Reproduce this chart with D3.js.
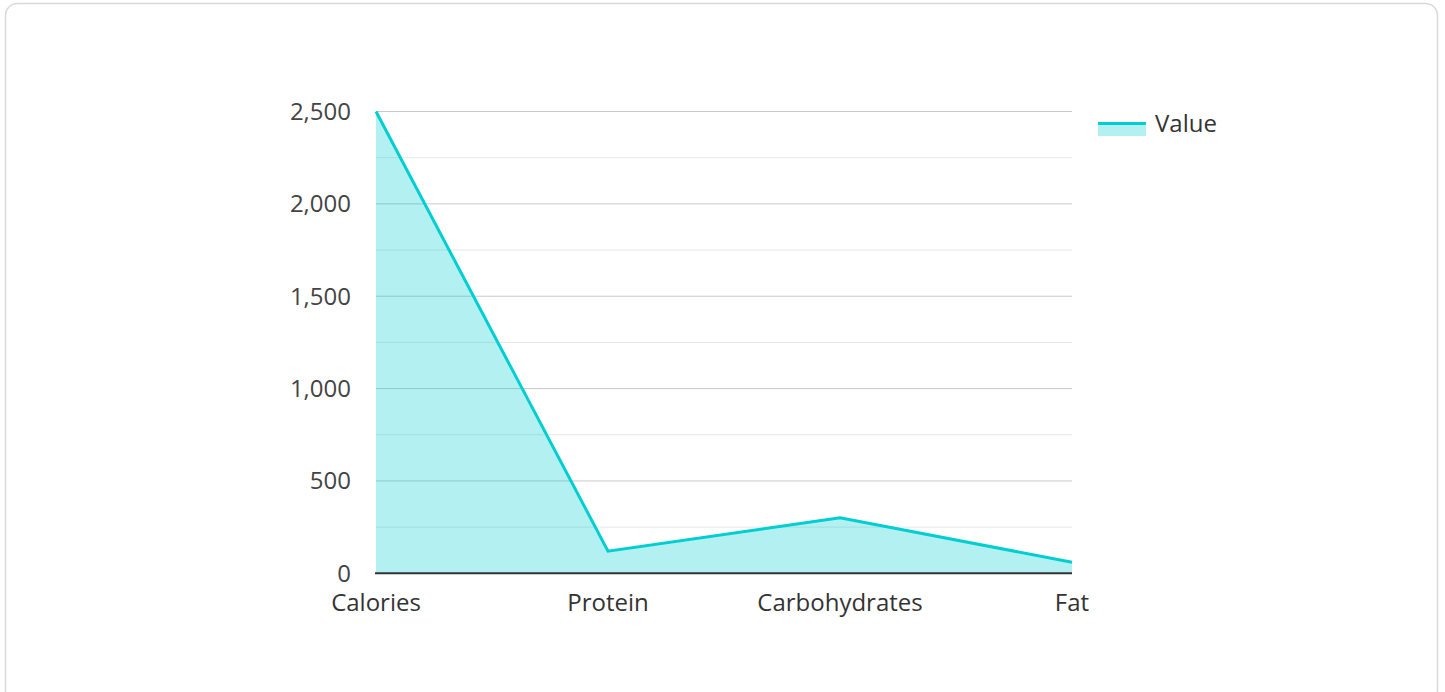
<!DOCTYPE html>
<html>
<head>
<meta charset="utf-8">
<script src="https://cdn.jsdelivr.net/npm/d3@7"></script>
<style>
  html, body { margin: 0; padding: 0; background: #fff; }
  svg { display: block; font-family: "Open Sans", "Noto Sans", sans-serif; }
</style>
</head>
<body>
<svg id="chart" width="1445" height="692"></svg>
<script>
// Daily nutrition values
const categories = ["Calories", "Protein", "Carbohydrates", "Fat"];
const values = [2500, 120, 300, 60];
const seriesName = "Value";
const yTicks = [0, 500, 1000, 1500, 2000, 2500];
const yMinorTicks = [250, 750, 1250, 1750, 2250];

const color = "#00CED1";
const svg = d3.select("#chart");

// card frame
svg.append("rect")
  .attr("x", 5.5).attr("y", 3.5)
  .attr("width", 1432).attr("height", 700)
  .attr("rx", 12).attr("ry", 12)
  .attr("fill", "#fff").attr("stroke", "#d9d9d9").attr("stroke-width", 1.5);

const plotLeft = 376, plotRight = 1072, plotTop = 111.5, plotBottom = 573.3;

const x = d3.scalePoint().domain(categories).range([plotLeft, plotRight]).padding(0);
const y = d3.scaleLinear().domain([0, 2500]).range([plotBottom, plotTop]);

const data = categories.map((c, i) => ({ c, v: values[i] }));

// minor gridlines
svg.append("g").selectAll("line").data(yMinorTicks).join("line")
  .attr("x1", plotLeft).attr("x2", plotRight)
  .attr("y1", d => y(d)).attr("y2", d => y(d))
  .attr("stroke", "#e6e6e6").attr("stroke-width", 1);

// major gridlines
svg.append("g").selectAll("line").data(yTicks.filter(t => t > 0)).join("line")
  .attr("x1", plotLeft).attr("x2", plotRight)
  .attr("y1", d => y(d)).attr("y2", d => y(d))
  .attr("stroke", "#c8c8c8").attr("stroke-width", 1);

// area
const area = d3.area().x(d => x(d.c)).y0(y(0)).y1(d => y(d.v));
svg.append("path").datum(data)
  .attr("d", area)
  .attr("fill", color).attr("fill-opacity", 0.3);

// baseline
svg.append("line")
  .attr("x1", plotLeft - 1).attr("x2", plotRight)
  .attr("y1", y(0)).attr("y2", y(0))
  .attr("stroke", "#333").attr("stroke-width", 2);

// line
const line = d3.line().x(d => x(d.c)).y(d => y(d.v));
svg.append("path").datum(data)
  .attr("d", line)
  .attr("fill", "none").attr("stroke", color).attr("stroke-width", 3)
  .attr("stroke-linejoin", "miter");

// y axis labels
const fmt = d3.format(",");
svg.append("g").selectAll("text").data(yTicks).join("text")
  .attr("x", 351).attr("y", d => y(d))
  .attr("dy", "0.35em")
  .attr("text-anchor", "end")
  .attr("font-size", 24).attr("fill", "#444")
  .text(d => fmt(d));

// x axis labels
svg.append("g").selectAll("text").data(categories).join("text")
  .attr("x", d => x(d)).attr("y", 611)
  .attr("text-anchor", "middle")
  .attr("font-size", 24).attr("fill", "#333")
  .text(d => d);

// legend
const lg = svg.append("g");
lg.append("rect").attr("x", 1098).attr("y", 122).attr("width", 48).attr("height", 14)
  .attr("fill", color).attr("fill-opacity", 0.3);
lg.append("line").attr("x1", 1098).attr("x2", 1146).attr("y1", 123.5).attr("y2", 123.5)
  .attr("stroke", color).attr("stroke-width", 3);
lg.append("text").attr("x", 1155).attr("y", 124).attr("dy", "0.35em")
  .attr("font-size", 24).attr("fill", "#333").text(seriesName);
</script>
</body>
</html>
